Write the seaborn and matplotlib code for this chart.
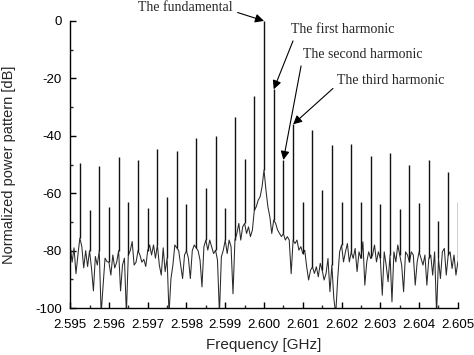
import numpy as np
import pandas as pd
import matplotlib
matplotlib.use("Agg")
import matplotlib.pyplot as plt
from matplotlib.ticker import MultipleLocator, FormatStrFormatter
import seaborn as sns


# Data

freq_start_ghz = 2.595
freq_stop_ghz = 2.605

# noise floor, one sample every 0.05 MHz (201 samples)
floor_db = [
    -78, -84, -79, -88, -81.5, -75.6, -78.5, -86, -80, -85.5,
    -80, -86, -94, -82, -85, -80, -102, -92, -82.6, -83.8,
    -84, -88.5, -81.5, -86, -84, -80, -94, -85, -82.6, -102,
    -81.5, -80, -76.8, -85, -84, -80, -81.5, -84, -83, -85.5,
    -80, -78, -81.5, -78, -82.6, -78, -85, -88.5, -79, -87.3,
    -82.6, -102, -89.7, -85, -78, -79, -80, -85, -89.7, -81.5,
    -80, -82.6, -89.7, -80, -78, -79, -80, -83.3, -92.6, -78.6,
    -76.3, -79.8, -76.3, -78.6, -81, -79.8, -83.3, -102, -82.1, -79.8,
    -76.3, -81, -76.3, -78.6, -95, -76.3, -74, -70.5, -76.3, -71.7,
    -70.5, -74, -71.7, -75.1, -72.8, -65.9, -64.7, -62.4, -61.2, -57.7,
    -51.9, -58.9, -64.7, -68.2, -74, -69.3, -70.5, -72.8, -74, -75.1,
    -74, -76.3, -75.1, -76.3, -88, -76.3, -77.5, -76.3, -79.8, -78.6,
    -81, -79.8, -85.6, -90.2, -86.8, -85.6, -87.9, -85.6, -89.1, -84.4,
    -86.8, -90.2, -87.9, -82.7, -94.3, -85, -96.6, -102, -89.7, -80.4,
    -78, -83.9, -80.4, -77.5, -83.9, -80.4, -82.7, -79.2, -87.3, -80.4,
    -82.7, -76.9, -92, -83.9, -80.4, -82.7, -81.5, -78, -83.9, -80.4,
    -82.7, -95.5, -80.4, -85, -90.8, -81.5, -97.8, -80.4, -83.9, -78,
    -81.5, -85, -94.3, -80.4, -81.5, -83.9, -80.4, -81.5, -92, -83.9,
    -80.4, -82.7, -85, -81.5, -92, -82.7, -81.5, -88.5, -80.4, -102,
    -82.7, -89.7, -80.4, -79.2, -88.5, -81.5, -80.4, -86.2, -81.5, -88.5,
    -83.9,
]

# spike peaks every 0.25 MHz, from 2.59525 to 2.605 GHz
spike_db = [
    -49.4, -66, -50.5, -64.7, -47.4, -63, -48.4, -65,
    -44.6, -61.3, -45.3, -63.8, -40.7, -58, -40.1, -65,
    -33.3, -48.2, -26.1, 0, -23.8, -48.4, -36, -63,
    -38, -58.7, -43.2, -63.2, -42.9, -63, -47, -63.7,
    -46.1, -65.5, -50, -63.4, -48.4, -69.8, -52.5, -63,
]

annot_labels = ["The fundamental", "The first harmonic",
                "The second harmonic", "The third harmonic"]
annot_spike = [19, 20, 21, 22]

freq = np.linspace(freq_start_ghz, freq_stop_ghz, len(floor_db))
df = pd.DataFrame({"freq": freq, "power": floor_db})
spike_freq = freq[5::5]
spike_base = np.array(floor_db)[5::5]


# Plot

sns.set_style("ticks")
plt.rcParams["font.family"] = ["Liberation Sans", "DejaVu Sans"]
plt.rcParams["axes.unicode_minus"] = False

fig = plt.figure(figsize=(4.74, 3.55), dpi=100)
ax = fig.add_axes([0.148, 0.132, 0.818, 0.809])

sns.lineplot(data=df, x="freq", y="power", ax=ax, color="#2a2a2a", lw=0.75)
ax.vlines(spike_freq, spike_base, spike_db, color="#111111", lw=1.0)

ax.set_xlim(freq_start_ghz, freq_stop_ghz)
ax.set_ylim(-100, 0)

ax.xaxis.set_major_locator(MultipleLocator(0.001))
ax.xaxis.set_minor_locator(MultipleLocator(0.0005))
ax.xaxis.set_major_formatter(FormatStrFormatter("%.3f"))
ax.yaxis.set_major_locator(MultipleLocator(20))
ax.yaxis.set_minor_locator(MultipleLocator(10))
ax.yaxis.set_major_formatter(FormatStrFormatter("%d"))

ax.tick_params(which="major", direction="in", length=4, width=1,
               labelsize=9.5, colors="black")
ax.tick_params(which="minor", direction="in", length=2.5, width=1)
ax.tick_params(axis="x", which="major", pad=8)
ax.tick_params(axis="y", which="major", pad=6)

for side in ["top", "right"]:
    ax.spines[side].set_visible(False)
for side in ["left", "bottom"]:
    ax.spines[side].set_color("black")
    ax.spines[side].set_linewidth(1)

ax.set_xlabel("Frequency [GHz]", fontsize=11)
ax.set_ylabel("Normalized power pattern [dB]", fontsize=10.5)
ax.xaxis.set_label_coords(0.5, -0.105)
ax.yaxis.set_label_coords(-0.14, 0.5)


# Annotations

text_pos = [(2.59920, 4.8), (2.600688, -3.1), (2.600997, -11.8), (2.601889, -20.8)]
text_ha = ["right", "left", "left", "left"]
arrow_rel = [(1.0, 0.2), (0.04, 0.0), (0.0, 0.3), (0.0, 0.2)]

for label, k, pos, ha, rel in zip(annot_labels, annot_spike, text_pos, text_ha, arrow_rel):
    ax.annotate(label, xy=(spike_freq[k], spike_db[k]), xytext=pos,
                ha=ha, va="center", fontsize=10,
                family=["Liberation Serif", "DejaVu Serif"],
                annotation_clip=False,
                arrowprops=dict(arrowstyle="-|>", color="black", lw=0.8,
                                mutation_scale=13, relpos=rel,
                                shrinkA=1, shrinkB=0))

fig.savefig("out.png", dpi=100)
